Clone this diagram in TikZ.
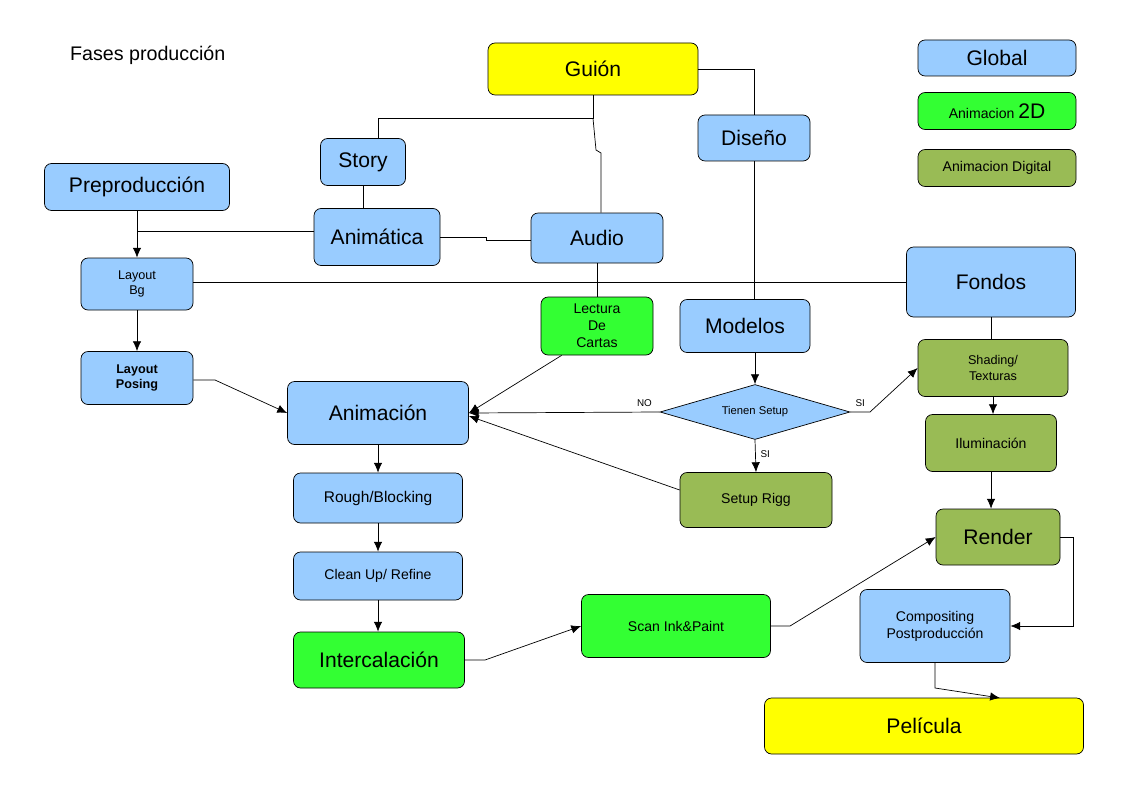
\documentclass[tikz,border=0pt]{standalone}
\usepackage{fontspec}
\setmainfont{Liberation Sans}
\usetikzlibrary{arrows.meta,positioning,shapes.geometric,calc}
\definecolor{gblue}{HTML}{99CCFF}
\definecolor{ggreen}{HTML}{33FF33}
\definecolor{golive}{HTML}{99BB55}
\definecolor{gyellow}{HTML}{FFFF00}
\tikzset{
  box/.style={draw, rounded corners=5pt, fill=gblue, align=center, inner sep=0pt},
  arr/.style={-{Latex[length=7pt,width=6pt]}},
  ln/.style={draw, line width=0.5pt}
}
\begin{document}
\begin{tikzpicture}[x=0.025cm, y=-0.025cm, line width=0.5pt]
\useasboundingbox (0,0) rectangle (1123,794);

% Title
\node[font=\fontsize{14}{16}\selectfont, anchor=west] (title) at (65,55) {Fases producción};

% Legend
\node[box, minimum width=158*0.025cm, minimum height=36*0.025cm, font=\fontsize{15}{17}\selectfont] (global) at (997,58) {Global};
\node[box, fill=ggreen, minimum width=158*0.025cm, minimum height=37*0.025cm, font=\fontsize{10}{12}\selectfont] (anim2d) at (997,111) {Animacion {\fontsize{15}{17}\selectfont 2D}};
\node[box, fill=golive, minimum width=158*0.025cm, minimum height=37*0.025cm, font=\fontsize{10}{12}\selectfont] (animdig) at (997,168) {Animacion Digital};

% Boxes
\node[box, fill=gyellow, minimum width=210*0.025cm, minimum height=52*0.025cm, font=\fontsize{15}{17}\selectfont] (guion) at (593,69) {Guión};
\node[box, minimum width=112*0.025cm, minimum height=46*0.025cm, font=\fontsize{15}{17}\selectfont] (diseno) at (754,138) {Diseño};
\node[box, minimum width=85*0.025cm, minimum height=47*0.025cm, font=\fontsize{15}{17}\selectfont] (story) at (363,162) {Story};
\node[box, minimum width=185*0.025cm, minimum height=47*0.025cm, font=\fontsize{15}{17}\selectfont] (prepro) at (137,187) {Preproducción};
\node[box, minimum width=126*0.025cm, minimum height=57*0.025cm, font=\fontsize{15}{17}\selectfont] (animatica) at (377,237) {Animática};
\node[box, minimum width=132*0.025cm, minimum height=50*0.025cm, font=\fontsize{15}{17}\selectfont] (audio) at (597,238) {Audio};
\node[box, minimum width=112*0.025cm, minimum height=52*0.025cm, font=\fontsize{9}{11}\selectfont] (layoutbg) at (137,284) {Layout\\Bg};
\node[box, minimum width=169*0.025cm, minimum height=70*0.025cm, font=\fontsize{15}{17}\selectfont] (fondos) at (991,282) {Fondos};
\node[box, fill=ggreen, minimum width=112*0.025cm, minimum height=58*0.025cm, font=\fontsize{10}{12}\selectfont] (lectura) at (597,326) {Lectura\\De\\Cartas};
\node[box, minimum width=130*0.025cm, minimum height=53*0.025cm, font=\fontsize{15}{17}\selectfont] (modelos) at (745,326) {Modelos};
\node[box, minimum width=112*0.025cm, minimum height=53*0.025cm, font=\bfseries\fontsize{9}{11}\selectfont] (posing) at (137,378) {Layout\\Posing};
\node[box, fill=golive, minimum width=150*0.025cm, minimum height=57*0.025cm, font=\fontsize{9}{11}\selectfont] (shading) at (993,368) {Shading/\\Texturas};
\node[box, minimum width=181*0.025cm, minimum height=63*0.025cm, font=\fontsize{15}{17}\selectfont] (animacion) at (378,413) {Animación};
\node[draw, diamond, aspect=3.5, fill=gblue, inner sep=0pt, minimum width=190*0.025cm, minimum height=55*0.025cm, font=\fontsize{8}{10}\selectfont] (setup) at (755,412) {Tienen Setup};
\node[box, fill=golive, minimum width=131*0.025cm, minimum height=57*0.025cm, font=\fontsize{10}{12}\selectfont] (ilum) at (991,443) {Iluminación};
\node[box, fill=golive, minimum width=152*0.025cm, minimum height=55*0.025cm, font=\fontsize{10}{12}\selectfont] (rigg) at (756,500) {Setup Rigg};
\node[box, minimum width=169*0.025cm, minimum height=50*0.025cm, font=\fontsize{11}{13}\selectfont] (rough) at (378,498) {Rough/Blocking};
\node[box, fill=golive, minimum width=124*0.025cm, minimum height=56*0.025cm, font=\fontsize{15}{17}\selectfont] (render) at (998,537) {Render};
\node[box, minimum width=169*0.025cm, minimum height=48*0.025cm, font=\fontsize{10}{12}\selectfont] (clean) at (378,576) {Clean Up/ Refine};
\node[box, fill=ggreen, minimum width=189*0.025cm, minimum height=63*0.025cm, font=\fontsize{10}{12}\selectfont] (scan) at (676,626) {Scan Ink\&Paint};
\node[box, minimum width=150*0.025cm, minimum height=73*0.025cm, font=\fontsize{10}{12}\selectfont] (compo) at (935,626) {Compositing\\Postproducción};
\node[box, fill=ggreen, minimum width=171*0.025cm, minimum height=56*0.025cm, font=\fontsize{15}{17}\selectfont] (interc) at (379,660) {Intercalación};
\node[box, fill=gyellow, minimum width=319*0.025cm, minimum height=56*0.025cm, font=\fontsize{15}{17}\selectfont] (pelicula) at (924,726) {Película};

% Plain connectors
\draw (guion.south) -- ++(0,23) coordinate (g1) -| (story.north -| 378,0);
\draw (g1) -- (596,150) -- (601,153) -- (audio.north -| 601,0);
\draw (guion.east) -| (diseno.north);
\draw (diseno.south) -- (modelos.north -| diseno.south);
\draw (story.south) -- (animatica.north -| story.south);
\draw (137,231) -- (animatica.west |- 0,231);
\draw (animatica.east) -- (486,237) -- (486,240) -- (audio.west |- 0,240);
\draw (layoutbg.east |- 0,282) -- (fondos.west |- 0,282);
\draw (audio.south) -- (lectura.north);
\draw (fondos.south) -- (shading.north -| fondos.south);

% Arrows
\draw[arr] (prepro.south) -- (layoutbg.north);
\draw[arr] (layoutbg.south) -- (posing.north);
\draw[arr] (posing.east |- 0,380) -- (215,380) -- (animacion.west);
\draw[arr] (lectura.south west) ++(21,0) -- (animacion.east);
\draw[arr] (modelos.south -| setup.north) -- (setup.north);
\draw[arr] (setup.west) -- node[above, pos=0.08, font=\fontsize{7}{9}\selectfont] {NO} (animacion.east);
\draw[arr] (setup.east) -- node[above, font=\fontsize{7}{9}\selectfont] {SI} (870,412) -- (shading.west);
\draw[arr] (setup.south) -- node[right, pos=0.45, font=\fontsize{7}{9}\selectfont] {SI} (rigg.north);
\draw[arr] (rigg.west |- 0,490) -- (animacion.east |- 0,416);
\draw[arr] (shading.south) -- (ilum.north -| shading.south);
\draw[arr] (ilum.south) -- (render.north -| ilum.south);
\draw[arr] (animacion.south) -- (rough.north);
\draw[arr] (rough.south) -- (clean.north);
\draw[arr] (clean.south) -- (interc.north -| clean.south);
\draw[arr] (interc.east) -- (485,660) -- (scan.west);
\draw[arr] (scan.east) -- (790,626) -- (render.west);
\draw[arr] (render.east) -- (1073,537) -- (1073,626) -- (compo.east);
\draw[arr] (compo.south) -- (935,688) -- (1000,698);
\end{tikzpicture}
\end{document}
